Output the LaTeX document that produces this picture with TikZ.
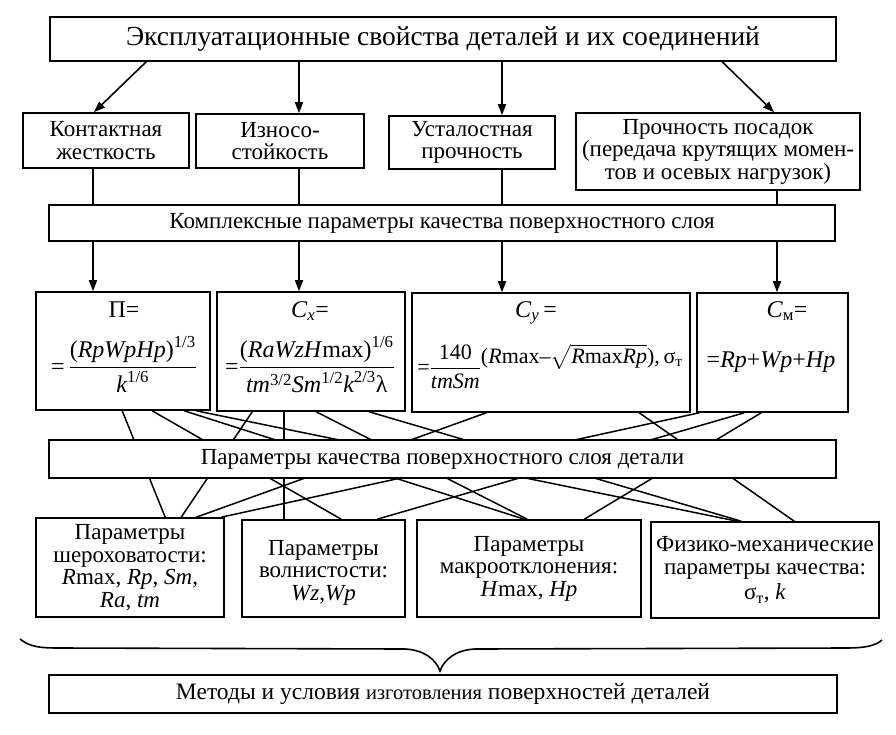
\documentclass[tikz,border=0pt]{standalone}
\usepackage{fontspec}
\setmainfont{Liberation Serif}
\usepackage{amsmath}
\usetikzlibrary{arrows.meta}
\newcommand\myfs{\fontsize{23}{22.5}\selectfont}
\newcommand\mathfs{\fontsize{24}{26}\selectfont}
\newcommand\boxat[6]{\node[box, minimum width=#4pt, minimum height=#5pt] (#1) at (#2,#3) {#6};}
\newcommand\cl[4]{\draw[ln] ([xshift=#2pt]#1.south west) -- ([xshift=#4pt]#3.north west);}
\begin{document}
\begin{tikzpicture}[x=1pt,y=-1pt,
  box/.style={draw, line width=1.6pt, fill=white, inner sep=0pt, align=center, font=\myfs},
  arr/.style={line width=1.6pt, -{Triangle[length=11pt,width=8pt]}},
  ln/.style={line width=1.5pt},
  txt/.style={inner sep=0pt, anchor=base, font=\mathfs}]
\useasboundingbox (0,0) rectangle (896,734);
\fill[white] (0,0) rectangle (896,734);
% column coordinates
\coordinate (c1) at (93,0);
\coordinate (c2) at (299,0);
\coordinate (c3) at (502,0);
\coordinate (c4) at (777,0);
% top
\boxat{top}{443}{39}{786}{44}{\fontsize{27.5}{30}\selectfont Эксплуатационные свойства деталей и их соединений}
\boxat{k1}{106}{140.5}{166}{55}{Контактная\\жесткость}
\boxat{k2}{280}{141}{168}{54}{Износо-\\стойкость}
\boxat{k3}{472}{142.5}{166}{53}{Усталостная\\прочность}
\boxat{k4}{718}{151.5}{284}{77}{Прочность посадок\\(передача крутящих момен-\\тов и осевых нагрузок)}
\boxat{komp}{442}{223}{786}{36}{Комплексные параметры качества поверхностного слоя}
\draw[arr] ([xshift=97pt]top.south west) -- ([xshift=-12pt]k1.north);
\draw[arr] (top.south -| c2) -- (k2.north -| c2);
\draw[arr] (top.south -| c3) -- (k3.north -| c3);
\draw[arr] ([xshift=673pt]top.south west) -- ([xshift=56pt]k4.north);
\draw[ln] (k1.south -| c1) -- (komp.north -| c1);
\draw[ln] (k2.south -| c2) -- (komp.north -| c2);
\draw[ln] (k3.south -| c3) -- (komp.north -| c3);
\draw[ln] (k4.south -| c4) -- (komp.north -| c4);
% formula boxes
\boxat{F1}{123}{351}{174}{118}{}
\boxat{F2}{311}{351.5}{188}{119}{}
\boxat{F3}{551}{352.5}{278}{119}{}
\boxat{F4}{772.5}{352.5}{151}{119}{}
\draw[arr] (komp.south -| c1) -- (F1.north -| c1);
\draw[arr] (komp.south -| c2) -- (F2.north -| c2);
\draw[arr] (komp.south -| c3) -- (F3.north -| c3);
\draw[arr] (komp.south -| c4) -- (F4.north -| c4);
\node[txt] (f1a) at (124,317) {П=};
\node[txt] (f1b) at (124,374) {=\,$\dfrac{\text{(\textit{RpWpHp})}^{\text{1/3}}}{\textit{k}^{\text{1/6}}}$};
\node[txt] (f2a) at (310,317) {\textit{C}$_{\textit{x}}$=};
\node[txt] (f2b) at (310,374) {=$\dfrac{\text{(\textit{RaWzH}max)}^{\text{1/6}}}{\textit{tm}^{\text{3/2}}\textit{Sm}^{\text{1/2}}\textit{k}^{\text{2/3}}\text{λ}}$};
\node[txt] (f3a) at (536,317) {\textit{C}$_{\textit{y}}$\,=};
\node[txt, font=\fontsize{22}{24}\selectfont] (f3b) at (550,374) {=$\dfrac{\text{140}}{\textit{tmSm}}\raisebox{11pt}{\text{(\textit{R}max–}$\sqrt{\text{\textit{R}max\textit{Rp}}}$\text{),\,σ}$_{\text{т}}$}$};
\node[txt] (f4a) at (787,317) {\textit{C}$_{\text{м}}$=};
\node[txt] (f4b) at (771,367) {=\textit{Rp}+\textit{Wp}+\textit{Hp}};
% bottom boxes
\boxat{B1}{130}{567.5}{188}{99}{Параметры\\шероховатости:\\\textit{R}max, \textit{Rp}, \textit{Sm},\\\textit{Ra}, \textit{tm}}
\boxat{B2}{323.5}{568.5}{163}{97}{\rule{0pt}{23pt}Параметры\\волнистости:\\\textit{Wz},\textit{Wp}}
\boxat{B3}{529}{568.5}{224}{97}{Параметры\\макроотклонения:\\\textit{H}max, \textit{Hp}}
\boxat{B4}{765}{570}{228}{96}{Физико-механические\\параметры качества:\\[3pt]σ$_{\text{т}}$, \textit{k}}
% crossing connectors
\cl{F1}{87}{B1}{130}
\cl{F1}{117}{B2}{100}
\cl{F1}{149}{B3}{108}
\cl{F1}{161}{B4}{87}
\cl{F2}{36}{B1}{146}
\cl{F2}{68}{B2}{43}
\cl{F2}{100}{B3}{111}
\cl{F2}{153}{B4}{91}
\cl{F3}{75}{B1}{161}
\cl{F3}{228}{B4}{144}
\cl{F4}{3}{B1}{186}
\cl{F4}{48}{B2}{136}
\cl{F4}{65}{B3}{168}
\boxat{par}{442.5}{459}{787}{38}{Параметры качества поверхностного слоя детали}
% brace
\draw[line width=1.6pt] (20,639) .. controls (30,647) and (40,648) .. (60,648) -- (405,649) .. controls (425,650) and (436,660) .. (440,671) .. controls (444,660) and (455,650) .. (475,649) -- (845,648) .. controls (865,648) and (875,646) .. (882,640);
\boxat{meth}{443}{694}{788}{38}{\fontsize{23.5}{25}\selectfont Методы и условия {\fontsize{20.5}{22}\selectfont изготовления} поверхностей деталей}
\end{tikzpicture}
\end{document}
